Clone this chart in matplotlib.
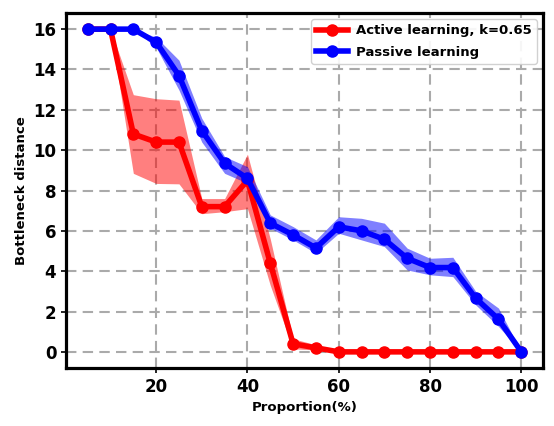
import matplotlib
matplotlib.use("Agg")
import matplotlib.pyplot as plt
import numpy as np

proportion = [5, 10, 15, 20, 25, 30, 35, 40, 45, 50, 55, 60, 65, 70, 75, 80, 85, 90, 95, 100]

active_mean = [16, 16, 10.8, 10.4, 10.4, 7.2, 7.2, 8.5, 4.4, 0.4, 0.2, 0, 0, 0, 0, 0, 0, 0, 0, 0]
active_low = [16, 16, 8.85, 8.35, 8.33, 6.85, 6.95, 7.1, 3.3, 0.15, 0.1, 0, 0, 0, 0, 0, 0, 0, 0, 0]
active_high = [16, 16, 12.75, 12.55, 12.48, 7.6, 7.6, 9.8, 5.6, 0.65, 0.35, 0, 0, 0, 0, 0, 0, 0, 0, 0]

passive_mean = [16, 16, 16, 15.35, 13.7, 10.97, 9.35, 8.6, 6.38, 5.8, 5.15, 6.2, 6.0, 5.58, 4.64, 4.18, 4.18, 2.66, 1.62, 0]
passive_low = [16, 16, 16, 15.1, 12.98, 10.4, 8.85, 8.36, 6.13, 5.55, 4.89, 5.88, 5.55, 5.22, 4.06, 3.82, 3.73, 2.33, 1.26, 0]
passive_high = [16, 16, 16, 15.6, 14.46, 11.58, 9.68, 9.18, 6.79, 6.21, 5.55, 6.7, 6.62, 6.38, 5.14, 4.64, 4.69, 3.0, 2.17, 0]

fig = plt.figure(figsize=(5.54, 4.26), dpi=100)
ax = fig.add_axes([66/554, 1-368/426, (543-66)/554, (368-13)/426])

ax.fill_between(proportion, active_low, active_high, color="red", alpha=0.5, linewidth=0, zorder=2)
ax.fill_between(proportion, passive_low, passive_high, color="blue", alpha=0.5, linewidth=0, zorder=2)
ax.plot(proportion, active_mean, color="red", marker="o", markersize=8, linewidth=4, label="Active learning, k=0.65", zorder=3)
ax.plot(proportion, passive_mean, color="blue", marker="o", markersize=8, linewidth=4, label="Passive learning", zorder=4)

ax.set_xticks([20, 40, 60, 80, 100])
ax.set_yticks(list(range(0, 17, 2)))
ax.grid(True, linestyle="--", color="#aaaaaa", linewidth=1.5, dashes=(5, 3))
ax.set_axisbelow(True)

for lab in ax.get_xticklabels() + ax.get_yticklabels():
    lab.set_fontweight("bold")
    lab.set_fontsize(12)

ax.set_xlabel("Proportion(%)", fontsize=9.5, fontweight="bold")
ax.set_ylabel("Bottleneck distance", fontsize=9.5, fontweight="bold")

for s in ax.spines.values():
    s.set_linewidth(2.3)
ax.tick_params(width=1.2)

leg = ax.legend(loc="upper right", prop={"weight": "bold", "size": 9.5}, framealpha=0.9,
                labelspacing=0.65, handlelength=2.4, handletextpad=0.6, borderaxespad=0.45)

fig.savefig("out.png", dpi=100)
